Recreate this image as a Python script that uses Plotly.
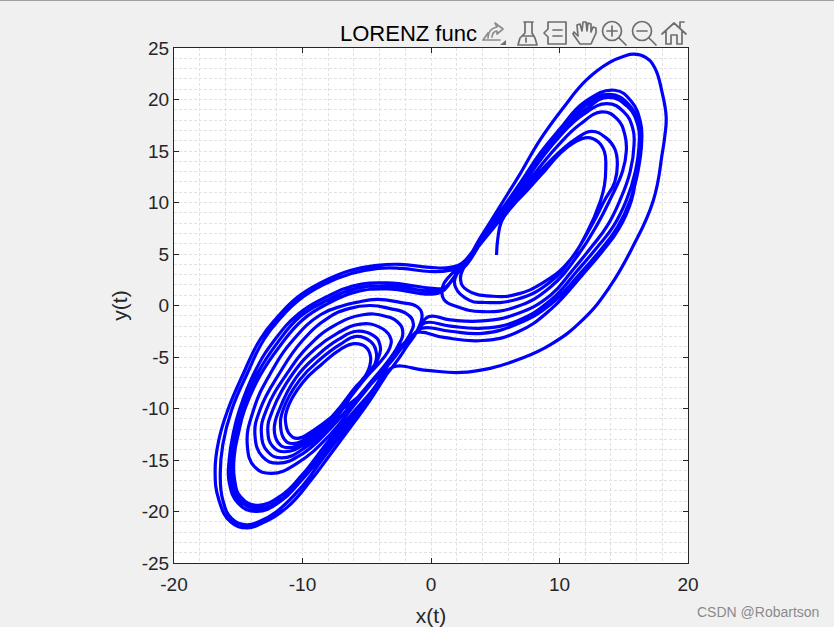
import base64
import plotly.graph_objects as go

# trajectory, one list pair per lap of a lobe
x_r1 = [5.1, 5.2, 5.5, 6.3, 7.5, 8.8, 10, 11.1, 12.2, 13, 13.5, 13.6, 13.5, 13.2, 12.1, 10.6, 8.7, 6.7, 4.8, 2.8, 2.3, 2.7]
y_r1 = [4.9, 6.5, 8.2, 9.6, 11.2, 13, 14.7, 15.8, 16.3, 15.9, 14.9, 13.3, 11.7, 10.2, 7, 4.1, 2.2, 1.1, 0.9, 1.5, 2.5, 4]
x_r2 = [4, 5.5, 7, 8.5, 10, 11.3, 12.5, 13.6, 14.3, 14.5, 14.3, 13.5, 12.6, 11, 9.3, 6.7, 4, 3, 1.9, 2, 2.8]
y_r2 = [6.2, 8.5, 10.8, 13, 14.9, 16.2, 16.9, 16.3, 15.2, 13.8, 12, 10.2, 8, 4.7, 2.3, 0.6, 0.3, 0.5, 1.8, 3, 4]
x_r3 = [4, 5.5, 7, 8.5, 10, 11.6, 13.3, 14.5, 15.1, 15.2, 14.9, 13.9, 13, 11.5, 9.3, 6.7, 4, 2, 1, 0.9, 1.4, 2.3]
y_r3 = [6.3, 8.7, 11.1, 13.5, 15.7, 17.6, 18.8, 18.1, 16.5, 15, 13, 10.2, 8, 5, 1.8, -0.1, -0.6, -0.1, 0.6, 1.8, 2.8, 3.8]
x_r4 = [4, 5.5, 7, 8.5, 10, 11.8, 13.7, 15, 15.7, 15.8, 15.5, 14.7, 13.7, 12.5, 11, 9.3, 6.7, 4, 1.5, -0.2, -1.1, -2.2, -3]
y_r4 = [6.4, 9, 11.5, 14.1, 16.4, 18.5, 19.6, 18.8, 17.2, 15.6, 13, 10.2, 7.7, 5.7, 3.4, 1, -0.8, -1.5, -1.4, -1.1, -2.6, -4, -5.3]

x_l1 = [-4.2, -5.6, -7.3, -9, -10.4, -11, -11.3, -11.2, -10, -8.5, -7.1, -6, -5.1, -4.7, -5]
y_l1 = [-7, -8.8, -10.4, -12, -12.9, -12.5, -11.5, -10.1, -7.5, -5.7, -4.3, -3.7, -4, -5, -6.6]
x_l2 = [-6, -7.5, -9.2, -10.8, -11.4, -11.7, -11.5, -10.2, -8.6, -7.1, -5.8, -4.7, -4.3, -4.4]
y_l2 = [-8.1, -10.5, -12.5, -13.4, -13, -11.8, -10.1, -7.2, -5.2, -3.8, -3, -3.5, -4.3, -5.8]
x_l3 = [-5.8, -7.5, -9.4, -11.2, -11.9, -12.2, -11.8, -10.5, -8.8, -7.2, -5.8, -4.5, -4, -4.1]
y_l3 = [-7.9, -10.8, -12.9, -13.8, -13.3, -12, -10.1, -7, -4.8, -3.3, -2.5, -2.9, -3.7, -5.1]
x_l4 = [-5.6, -7.6, -9.6, -11.4, -12.3, -12.7, -12.3, -10.8, -9, -7.3, -5.5, -4, -3.2, -3.2]
y_l4 = [-7.6, -11.2, -13.3, -14.2, -13.7, -12.2, -10.1, -6.7, -4.2, -2.7, -1.8, -2.1, -3, -4.1]
x_l5 = [-5.2, -6.2, -7.7, -9.8, -11.6, -12.7, -13.2, -12.8, -11.2, -9.5, -7.6, -5.3, -3.7, -2.6, -2.2, -2.6]
y_l5 = [-7.2, -8.8, -11.3, -13.8, -14.8, -14.2, -12.4, -10.1, -6.6, -3.9, -2, -0.9, -1, -1.6, -2.5, -4]
x_l6 = [-5, -6.2, -7.8, -10, -11.9, -13.1, -13.7, -13.3, -11.8, -10, -8, -6.4, -4.7, -3.2, -1.9, -1.4, -1.6]
y_l6 = [-7.9, -9.6, -11.9, -14.4, -15.3, -14.7, -12.6, -10.1, -6.6, -3.4, -1.2, -0.3, 0, -0.3, -0.8, -1.6, -2.7]
x_l7 = [-4.4, -6, -7.9, -10.4, -12.4, -13.7, -14.3, -13.8, -12.5, -10.7, -8.6, -6.8, -5.8, -4.2, -2.4, -1.1, -0.7, -1.1, -1.9, -2.6]
y_l7 = [-7.2, -9.7, -12.6, -15.3, -16.3, -15.7, -13.5, -10.1, -6.6, -3.3, -0.9, 0, 0.3, 0.6, 0.3, -0.1, -0.9, -2.5, -4, -5.3]

x_t1 = [-4.1, -6, -8, -10, -11.5, -13.5, -14.9, -15.5, -15.5, -15.2, -14.7, -13.5, -12, -10.2, -8.1, -6, -3.4, -0.1, 0.9, 1.6, 2.4]
y_t1 = [-7.7, -10.6, -13.6, -16.7, -18.7, -19.7, -18.9, -17, -14.7, -12.5, -10.1, -6.6, -3.7, -1.1, 0.5, 1.6, 1.9, 1.4, 1.5, 2.4, 3.8]
x_r5 = [4, 5.5, 7, 8.5, 10, 12, 13.8, 15.3, 16.1, 16.2, 15.9, 15.2, 14.2, 12.9, 11.4, 9.3, 6.7, 4, 1.5, -0.5, -1.3, -2.4, -3.2]
y_r5 = [6.4, 9.1, 11.7, 14.4, 16.7, 19, 20.2, 19.3, 17.5, 15.8, 13, 10.2, 7.7, 5.6, 3.4, 0.5, -1.5, -2.2, -2, -1.7, -2.8, -4.2, -5.5]
x_t2 = [-4.3, -6.1, -8.1, -10.1, -11.7, -13.6, -15, -15.7, -15.7, -15.4, -14.9, -13.7, -12.2, -10.3, -8.2, -6.1, -3.4, -0.1, 1, 1.7, 2.4]
y_t2 = [-8, -11, -14, -17, -19, -20, -19.2, -17.2, -14.9, -12.5, -10.1, -6.4, -3.4, -0.8, 0.8, 1.9, 2.2, 1.7, 1.7, 2.6, 3.9]
x_r6 = [4, 5.5, 7, 8.5, 10, 12, 14.3, 15.6, 16.3, 16.4, 16.1, 15.5, 14.5, 13.2, 11.6, 9.3, 6.7, 4, 1.5, -0.7, -1.5, -2.6, -3.4]
y_r6 = [6.5, 9.3, 12, 14.8, 17.1, 19.8, 20.9, 19.8, 17.8, 16, 13, 10.2, 7.6, 5.4, 3.1, 0.1, -1.8, -2.7, -2.5, -2.2, -3, -4.4, -5.7]
x_t3 = [-4.2, -6, -8, -10, -11.6, -13.5, -14.8, -15.3, -15.3, -15, -14.5, -13.3, -11.8, -10, -8, -5.9, -3.4, -0.1, 0.8, 1.5, 2.3]
y_t3 = [-7.6, -10.3, -13.2, -16.4, -18.4, -19.4, -18.6, -16.8, -14.5, -12.5, -10.1, -6.8, -4, -1.4, 0.2, 1.3, 1.6, 1.1, 1.3, 2.2, 3.7]
x_r7 = [4, 5.5, 7, 8.5, 10, 12, 13.9, 15.4, 16.1, 16.3, 16, 15.6, 14.6, 13.3, 11.8, 9.3, 6.7, 4, 1, -1, -1.7, -2.8, -3.5]
y_r7 = [6.5, 9.2, 11.9, 14.6, 16.9, 19.4, 20.5, 19.5, 17.7, 16, 13, 10.2, 7.4, 5.2, 3, -0.4, -2.6, -3.4, -3.1, -2.6, -3.2, -4.6, -6]

x_o1 = [-4.4, -6.2, -8.2, -10.2, -12, -13.4, -14.4, -15.5, -16.2, -16.4, -16.2, -15.5, -14.3, -13, -11.7, -10.2, -8.4, -6.2, -4.1, -2.3, -0.1, 1.4, 2.4]
y_o1 = [-8.2, -11.2, -14.5, -17.8, -20, -21, -21.3, -20.7, -18.9, -16.4, -13.5, -10.1, -6.6, -3.3, -1.2, 0.6, 2, 3.1, 3.6, 3.6, 3.3, 3.4, 3.9]
x_r8 = [4, 6, 6.9, 8.5, 10.3, 12.1, 13.9, 15, 15.8, 16.7, 17.4, 18, 18.3, 18.2, 18, 17.3, 15.7, 13.9, 11.8, 9.3, 6.9, 4.6, 2.3, -0.3, -3]
y_r8 = [6.9, 10.9, 12.7, 16.1, 19.2, 21.9, 23.6, 24.2, 24.4, 24.1, 23.1, 20.6, 18.3, 16.5, 14.8, 10.2, 5.7, 1.8, -1.4, -3.8, -5.2, -6.1, -6.5, -6.3, -6]
x_o2 = [-3.6, -4.8, -6.2, -8.1, -9.3, -11.2, -13.1, -14.3, -15.6, -16.5, -16.8, -16.5, -15.8, -14.6, -13.3, -12, -10.4, -8.6, -6.3, -4.2, -2.4, -0.1, 1.5, 2.4, 4, 6, 8]
y_o2 = [-7, -9.3, -11.7, -14.9, -16.9, -19.6, -21.1, -21.6, -21, -18.9, -16, -13, -10.1, -6.6, -3.3, -1.2, 0.8, 2.2, 3.4, 3.9, 4, 3.7, 3.7, 4.1, 6.6, 9.9, 12.6]

x_t = (x_r1 + x_r2 + x_r3 + x_r4 + x_l1 + x_l2 + x_l3 + x_l4 + x_l5 + x_l6 + x_l7 + x_t1
       + x_r5 + x_t2 + x_r6 + x_t3 + x_r7 + x_o1 + x_r8 + x_o2)
y_t = (y_r1 + y_r2 + y_r3 + y_r4 + y_l1 + y_l2 + y_l3 + y_l4 + y_l5 + y_l6 + y_l7 + y_t1
       + y_r5 + y_t2 + y_r6 + y_t3 + y_r7 + y_o1 + y_r8 + y_o2)
assert len(x_t) == len(y_t)

x_ticks = [-20, -10, 0, 10, 20]
y_ticks = [-25, -20, -15, -10, -5, 0, 5, 10, 15, 20, 25]

W, H = 834, 627
FONT = "Liberation Sans"
GRID = "#e2e2e2"

# the figure window toolbar, drawn as one svg strip
icons = """<svg xmlns='http://www.w3.org/2000/svg' width='212' height='30' viewBox='478 18 212 30'>
<g fill='none' stroke='#6e6e6e' stroke-width='1.7' stroke-linejoin='round' stroke-linecap='round'>
<path d='M483 40 L488 33 M483 40 L500 40 M488 38 C488 31 492 28 497 27 L495 23 L503 29 L497 34 L497 31 C494 31 492 34 492 37' stroke='#8c8c8c'/>
<path d='M500 45 L506 45 L506 40 Z' fill='#6e6e6e' stroke='none'/>
<path d='M524 22 L533 22 M525 22 L525 33 L520 38 L518 45 L537 45 L535 38 L532 33 L532 22 M522 36 L534 36 M526 42 L526 38'/>
<path d='M548 22 L566 22 L566 44 L548 44 L548 37 L544 33 L548 29 Z M553 30 L562 30 M553 36 L562 36'/>
<path d='M580 44 L591 44 L596 33 L596 28 L593 27 L591 32 L591 24 L588 23 L587 31 L586 22 L583 22 L582 31 L580 24 L577 25 L578 36 L574 32 L573 34 Z'/>
<circle cx='612' cy='31' r='9.5'/><path d='M619 38 L626 45 M607 31 L617 31 M612 26 L612 36'/>
<circle cx='642' cy='31' r='9.5'/><path d='M649 38 L656 45 M637 31 L647 31'/>
<path d='M662 34 L674 23 L686 34 M666 31 L666 44 L671 44 L671 35 L677 35 L677 44 L682 44 L682 31 M680 27 L680 22 L684 22'/>
</g></svg>"""
icons_uri = "data:image/svg+xml;base64," + base64.b64encode(icons.encode()).decode()

fig = go.Figure()
fig.add_trace(go.Scatter(
    x=x_t,
    y=y_t,
    mode="lines",
    line=dict(color="#0000ff", width=3.2, shape="spline", smoothing=1.3),
    showlegend=False,
))

axis_style = dict(
    automargin=False,
    showline=True,
    linecolor="#262626",
    linewidth=1,
    mirror="ticks",
    ticks="inside",
    ticklen=5,
    tickwidth=1,
    tickcolor="#262626",
    showgrid=True,
    gridcolor=GRID,
    griddash="3px,2px",
    zeroline=False,
    tickfont=dict(family=FONT, size=19, color="#262626"),
)

fig.update_xaxes(
    range=[-20, 20],
    tickvals=x_ticks,
    ticktext=[str(v) for v in x_ticks],
    minor=dict(tick0=-20, dtick=2, showgrid=True, gridcolor=GRID, griddash="3px,2px", ticks=""),
    title=dict(text="x(t)", font=dict(family=FONT, size=21, color="#262626"), standoff=14),
    ticklabelstandoff=4,
    **axis_style,
)
fig.update_yaxes(
    range=[-25, 25],
    tickvals=y_ticks,
    ticktext=[str(v) for v in y_ticks],
    minor=dict(tick0=-25, dtick=1, showgrid=True, gridcolor=GRID, griddash="3px,2px", ticks=""),
    title=dict(text="y(t)", font=dict(family=FONT, size=21, color="#262626"), standoff=8),
    **axis_style,
)

fig.update_layout(
    width=W,
    height=H,
    autosize=False,
    paper_bgcolor="#f0f0f0",
    plot_bgcolor="#ffffff",
    margin=dict(l=174, r=146, t=48, b=64),
    title=dict(
        text="LORENZ func",
        x=340 / W,
        xanchor="left",
        y=1 - 33 / H,
        yanchor="middle",
        font=dict(family=FONT, size=22, color="#000000"),
    ),
    images=[dict(
        source=icons_uri,
        xref="paper", yref="paper",
        x=(478 - 174) / (W - 174 - 146),
        y=1 + (48 - 18) / (H - 48 - 64),
        sizex=212 / (W - 174 - 146),
        sizey=30 / (H - 48 - 64),
        xanchor="left", yanchor="top",
        sizing="stretch",
        layer="above",
    )],
    annotations=[dict(
        text="CSDN @Robartson",
        xref="paper", yref="paper",
        x=1 + (821 - 688) / (W - 174 - 146),
        y=-(612 - 563) / (H - 48 - 64),
        xanchor="right", yanchor="middle",
        showarrow=False,
        font=dict(family=FONT, size=14, color="#8a8a8a"),
    )],
    shapes=[dict(
        type="line", xref="paper", yref="paper",
        x0=-1, x1=2, y0=1 + 48 / (H - 48 - 64), y1=1 + 48 / (H - 48 - 64),
        line=dict(color="#a0a0a0", width=2),
    )],
)

# drop the page's default body margin so the figure sits at the window corner
fig.write_html(
    "out.html",
    config=dict(displayModeBar=False),
    post_script="document.body.style.margin='0';",
)
